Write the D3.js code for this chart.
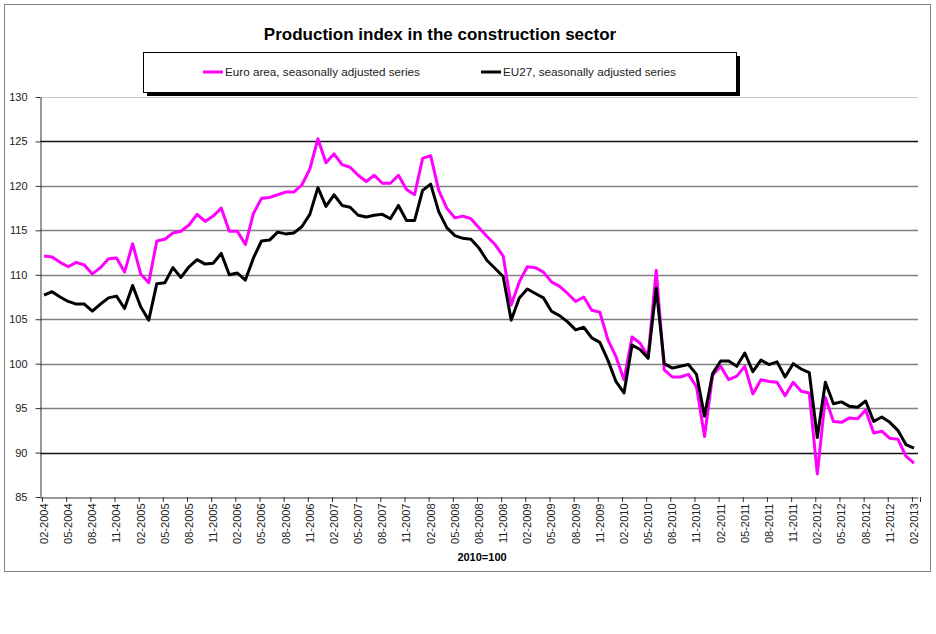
<!DOCTYPE html>
<html>
<head>
<meta charset="utf-8">
<script src="https://cdn.jsdelivr.net/npm/d3@7"></script>
<style>
  body { margin: 0; background: #fff; }
  svg { font-family: "Liberation Sans", Arial, sans-serif; }
</style>
</head>
<body>
<script>
// monthly data, 02-2004 .. 02-2013 (2010=100)
const euroArea = [
  112.1, 112.0, 111.4, 110.9, 111.4, 111.1, 110.1, 110.8, 111.8, 111.9, 110.3, 113.5,
  110.1, 109.1, 113.8, 114.0, 114.7, 114.9, 115.6, 116.8, 116.0, 116.6, 117.5, 114.9,
  114.9, 113.4, 116.9, 118.6, 118.7, 119.0, 119.3, 119.3, 120.1, 121.9, 125.3, 122.6,
  123.6, 122.4, 122.1, 121.2, 120.5, 121.2, 120.3, 120.3, 121.2, 119.6, 119.0, 123.1,
  123.4, 119.5, 117.5, 116.4, 116.6, 116.3, 115.3, 114.3, 113.4, 112.1, 106.6, 109.2,
  110.9, 110.8, 110.3, 109.2, 108.7, 107.9, 107.0, 107.5, 106.0, 105.8, 102.7, 100.8,
  98.2, 103.0, 102.3, 100.8, 110.5, 99.3, 98.5, 98.5, 98.8, 97.4, 91.8, 98.7,
  99.7, 98.2, 98.6, 99.7, 96.6, 98.2, 98.0, 97.9, 96.4, 97.9, 96.9, 96.7,
  87.6, 96.2, 93.5, 93.4, 93.9, 93.8, 94.8, 92.2, 92.4, 91.6, 91.5, 89.6,
  88.8
];
const eu27 = [
  107.7, 108.1, 107.5, 107.0, 106.7, 106.7, 105.9, 106.7, 107.4, 107.6, 106.2, 108.8,
  106.4, 104.9, 109.0, 109.1, 110.8, 109.7, 110.9, 111.7, 111.2, 111.3, 112.4, 110.0,
  110.2, 109.4, 111.9, 113.8, 113.9, 114.8, 114.6, 114.7, 115.4, 116.8, 119.8, 117.7,
  119.0, 117.8, 117.6, 116.7, 116.5, 116.7, 116.8, 116.3, 117.8, 116.1, 116.1, 119.5,
  120.2, 117.1, 115.3, 114.4, 114.1, 114.0, 113.0, 111.6, 110.7, 109.8, 104.9, 107.4,
  108.4, 107.9, 107.4, 105.9, 105.4, 104.7, 103.8, 104.1, 102.9, 102.4, 100.4, 98.0,
  96.7, 102.1, 101.6, 100.6, 108.5, 100.0, 99.5, 99.7, 99.9, 98.8, 94.1, 98.9,
  100.3, 100.3, 99.7, 101.2, 99.1, 100.4, 99.9, 100.2, 98.5, 100.0, 99.4, 99.0,
  91.7, 97.9, 95.5, 95.7, 95.2, 95.1, 95.8, 93.5, 94.0, 93.4, 92.5, 90.9,
  90.5
];
const tickLabels = [
  '02-2004', '05-2004', '08-2004', '11-2004', '02-2005', '05-2005', '08-2005', '11-2005',
  '02-2006', '05-2006', '08-2006', '11-2006', '02-2007', '05-2007', '08-2007', '11-2007',
  '02-2008', '05-2008', '08-2008', '11-2008', '02-2009', '05-2009', '08-2009', '11-2009',
  '02-2010', '05-2010', '08-2010', '11-2010', '02-2011', '05-2011', '08-2011', '11-2011',
  '02-2012', '05-2012', '08-2012', '11-2012', '02-2013'
];
const yTicks = [85, 90, 95, 100, 105, 110, 115, 120, 125, 130];
const seriesNames = ['Euro area, seasonally adjusted series', 'EU27, seasonally adjusted series'];
const seriesColors = ['#ff00ff', '#000000'];

const months = d3.range(euroArea.length);

const W = 936, H = 634;
const svg = d3.select('body').append('svg')
    .attr('width', W)
    .attr('height', H);

// outer frame
svg.append('rect')
    .attr('x', 4.5).attr('y', 4.5)
    .attr('width', 926).attr('height', 567)
    .attr('fill', '#fff')
    .attr('stroke', '#7f7f7f');

svg.append('text')
    .attr('x', 440).attr('y', 40)
    .attr('text-anchor', 'middle')
    .attr('font-size', 17)
    .attr('font-weight', 'bold')
    .text('Production index in the construction sector');

const pLeft = 40, pRight = 918, pTop = 97, pBottom = 497;
const x = d3.scaleBand().domain(months).range([pLeft, pRight]);
const y = d3.scaleLinear().domain([85, 130]).range([pBottom, pTop]);
const cx = i => x(i) + x.bandwidth() / 2;

// gridlines
svg.append('g').selectAll('line')
    .data(yTicks.filter(d => d > 85))
    .enter().append('line')
    .attr('x1', pLeft).attr('x2', pRight)
    .attr('y1', d => Math.round(y(d)) + 0.5)
    .attr('y2', d => Math.round(y(d)) + 0.5)
    .attr('stroke', d => d === 130 ? '#c8c8c8' : (d === 125 || d === 90) ? '#111' : '#808080')
    .attr('stroke-width', d => d === 130 ? 1 : 1.3);

// y axis
const yAxis = svg.append('g')
    .attr('transform', `translate(${pLeft + 0.5},0)`)
    .call(d3.axisLeft(y).tickValues(yTicks).tickSize(5).tickPadding(8).tickSizeOuter(0));
yAxis.selectAll('text').attr('font-size', 11).attr('fill', '#222')
    .attr('font-family', '"Liberation Sans", Arial, sans-serif');
yAxis.selectAll('line, path').attr('stroke', '#333');

// x axis
const tickIdx = months.filter(i => i % 3 === 0);
const xAxis = svg.append('g')
    .attr('transform', `translate(0,${pBottom + 0.5})`)
    .call(d3.axisBottom(x).tickValues(tickIdx).tickSize(0).tickPadding(6)
        .tickFormat((d, i) => tickLabels[i]).tickSizeOuter(0));
xAxis.select('.domain').attr('stroke', '#333');
xAxis.selectAll('text')
    .attr('font-size', 11).attr('fill', '#222')
    .attr('font-family', '"Liberation Sans", Arial, sans-serif')
    .attr('transform', 'rotate(-90)')
    .attr('text-anchor', 'end')
    .attr('dy', '0.35em')
    .attr('x', -6).attr('y', 0);
svg.append('g').selectAll('line')
    .data(tickIdx.concat([months.length]))
    .enter().append('line')
    .attr('x1', d => (d < months.length ? x(d) : pRight) + 2.5)
    .attr('x2', d => (d < months.length ? x(d) : pRight) + 2.5)
    .attr('y1', pBottom).attr('y2', pBottom + 5)
    .attr('stroke', '#333');

svg.append('text')
    .attr('x', 482).attr('y', 561)
    .attr('text-anchor', 'middle')
    .attr('font-size', 11)
    .attr('font-weight', 'bold')
    .text('2010=100');

// series lines
const line = d3.line()
    .x((d, i) => cx(i))
    .y(d => y(d));
[euroArea, eu27].forEach((s, k) => {
    svg.append('path')
        .datum(s)
        .attr('d', line)
        .attr('fill', 'none')
        .attr('stroke', seriesColors[k])
        .attr('stroke-width', 3)
        .attr('stroke-linejoin', 'round');
});

// legend box with shadow
const lg = svg.append('g');
lg.append('rect')
    .attr('x', 147).attr('y', 56)
    .attr('width', 593).attr('height', 40)
    .attr('fill', '#000');
lg.append('rect')
    .attr('x', 143.5).attr('y', 52.5)
    .attr('width', 593).attr('height', 40)
    .attr('fill', '#fff')
    .attr('stroke', '#000');
const legendX = [203, 481];
seriesNames.forEach((name, k) => {
    lg.append('line')
        .attr('x1', legendX[k]).attr('x2', legendX[k] + 20)
        .attr('y1', 72).attr('y2', 72)
        .attr('stroke', seriesColors[k])
        .attr('stroke-width', 3);
    lg.append('text')
        .attr('x', legendX[k] + 22).attr('y', 76)
        .attr('font-size', 11.7)
        .attr('fill', '#222')
        .text(name);
});
</script>
</body>
</html>
